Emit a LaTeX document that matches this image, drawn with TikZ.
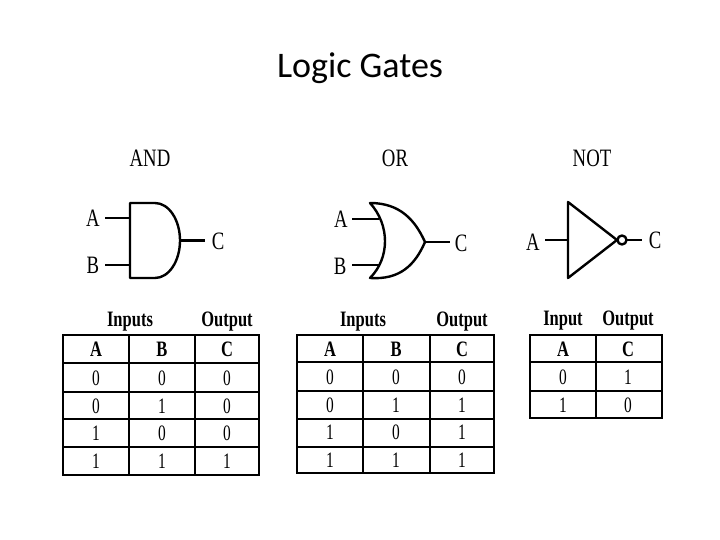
\documentclass[tikz,border=0pt]{standalone}
\usepackage{fontspec}
\setmainfont{Liberation Serif}
\newfontfamily\titlefont{Carlito}
\begin{document}
\begin{tikzpicture}[x=1pt,y=-1pt,
  lbl/.style={font=\fontsize{25}{25}\selectfont, inner sep=0pt, xscale=0.75},
  hdr/.style={font=\bfseries\fontsize{22}{22}\selectfont, inner sep=0pt, xscale=0.75},
  cell/.style={font=\fontsize{22}{22}\selectfont, inner sep=0pt, xscale=0.7},
  gate/.style={line width=2.4pt, line join=round},
  wire/.style={line width=2.4pt},
  grid/.style={line width=1.1pt},
  thick rule/.style={line width=2.2pt}]
\useasboundingbox (0,0) rectangle (720,540);
\fill[white] (0,0) rectangle (720,540);
\node[font=\titlefont\fontsize{36}{36}\selectfont] (title) at (360,68) {Logic Gates};

% ---- AND ----
\node[lbl] (tand) at (150,158) {AND};
\node[lbl] (aA) at (93,218) {A};
\node[lbl] (aB) at (93,265) {B};
\node[lbl] (aC) at (218,241) {C};
\draw[gate] (130,203) -- (155,203) arc[start angle=-90,end angle=90,x radius=25,y radius=37.5] -- (130,278) -- cycle;
\draw[wire] (105,218) -- (130,218);
\draw[wire] (105,265) -- (130,265);
\draw[wire] (180,240.5) -- (205,240.5);
% AND table
\node[hdr] at (130,322) {Inputs};
\node[hdr] at (227,322) {Output};
\draw[grid] (63,335) rectangle (259,475);
\foreach \x in {129,195} \draw[grid] (\x,335) -- (\x,475);
\draw[thick rule] (63,363) -- (259,363);
\foreach \y in {392,419,447} \draw[grid] (63,\y) -- (259,\y);
\node[hdr] at (96,349) {A};\node[hdr] at (162,349) {B};\node[hdr] at (227,349) {C};
\foreach \r/\a/\b/\c in {0/0/0/0,1/0/1/0,2/1/0/0,3/1/1/1}{
  \pgfmathsetmacro\yy{378+27.8*\r}
  \node[cell] at (96,\yy) {\a};\node[cell] at (162,\yy) {\b};\node[cell] at (227,\yy) {\c};}

% ---- OR ----
\node[lbl] (tor) at (395,158) {OR};
\node[lbl] (oA) at (341,219) {A};
\node[lbl] (oB) at (340,266) {B};
\node[lbl] (oC) at (461,243) {C};
\draw[gate] (370,203) .. controls (390,225) and (390,258) .. (370,278)
  .. controls (400,280) and (415,265) .. (425,242)
  .. controls (415,220) and (400,203) .. (370,203) -- cycle;
\draw[wire] (352,219) -- (379,219);
\draw[wire] (352,265) -- (379,265);
\draw[wire] (425,242) -- (450,242);
% OR table
\node[hdr] at (363,322) {Inputs};
\node[hdr] at (462,322) {Output};
\draw[grid] (297,335) rectangle (494,473);
\foreach \x in {363,430} \draw[grid] (\x,335) -- (\x,473);
\draw[thick rule] (297,362) -- (494,362);
\foreach \y in {391,419,447} \draw[grid] (297,\y) -- (494,\y);
\node[hdr] at (330,349) {A};\node[hdr] at (396,349) {B};\node[hdr] at (462,349) {C};
\foreach \r/\a/\b/\c in {0/0/0/0,1/0/1/1,2/1/0/1,3/1/1/1}{
  \pgfmathsetmacro\yy{377+27.8*\r}
  \node[cell] at (330,\yy) {\a};\node[cell] at (396,\yy) {\b};\node[cell] at (462,\yy) {\c};}

% ---- NOT ----
\node[lbl] (tnot) at (592,158) {NOT};
\node[lbl] (nA) at (533,242) {A};
\node[lbl] (nC) at (655,240) {C};
\draw[gate] (568,202) -- (617,240) -- (568,278) -- cycle;
\draw[gate] (622,240) circle[radius=4.5];
\draw[wire] (545,240) -- (568,240);
\draw[wire] (626.5,240) -- (642,240);
% NOT table
\node[hdr] at (563,321) {Input};
\node[hdr] at (628,321) {Output};
\draw[grid] (530,335) rectangle (662,418);
\draw[grid] (596,335) -- (596,418);
\draw[thick rule] (530,362) -- (662,362);
\draw[grid] (530,391) -- (662,391);
\node[hdr] at (563,349) {A};\node[hdr] at (628,349) {C};
\node[cell] at (563,377) {0};\node[cell] at (628,377) {1};
\node[cell] at (563,405) {1};\node[cell] at (628,405) {0};
\end{tikzpicture}
\end{document}
